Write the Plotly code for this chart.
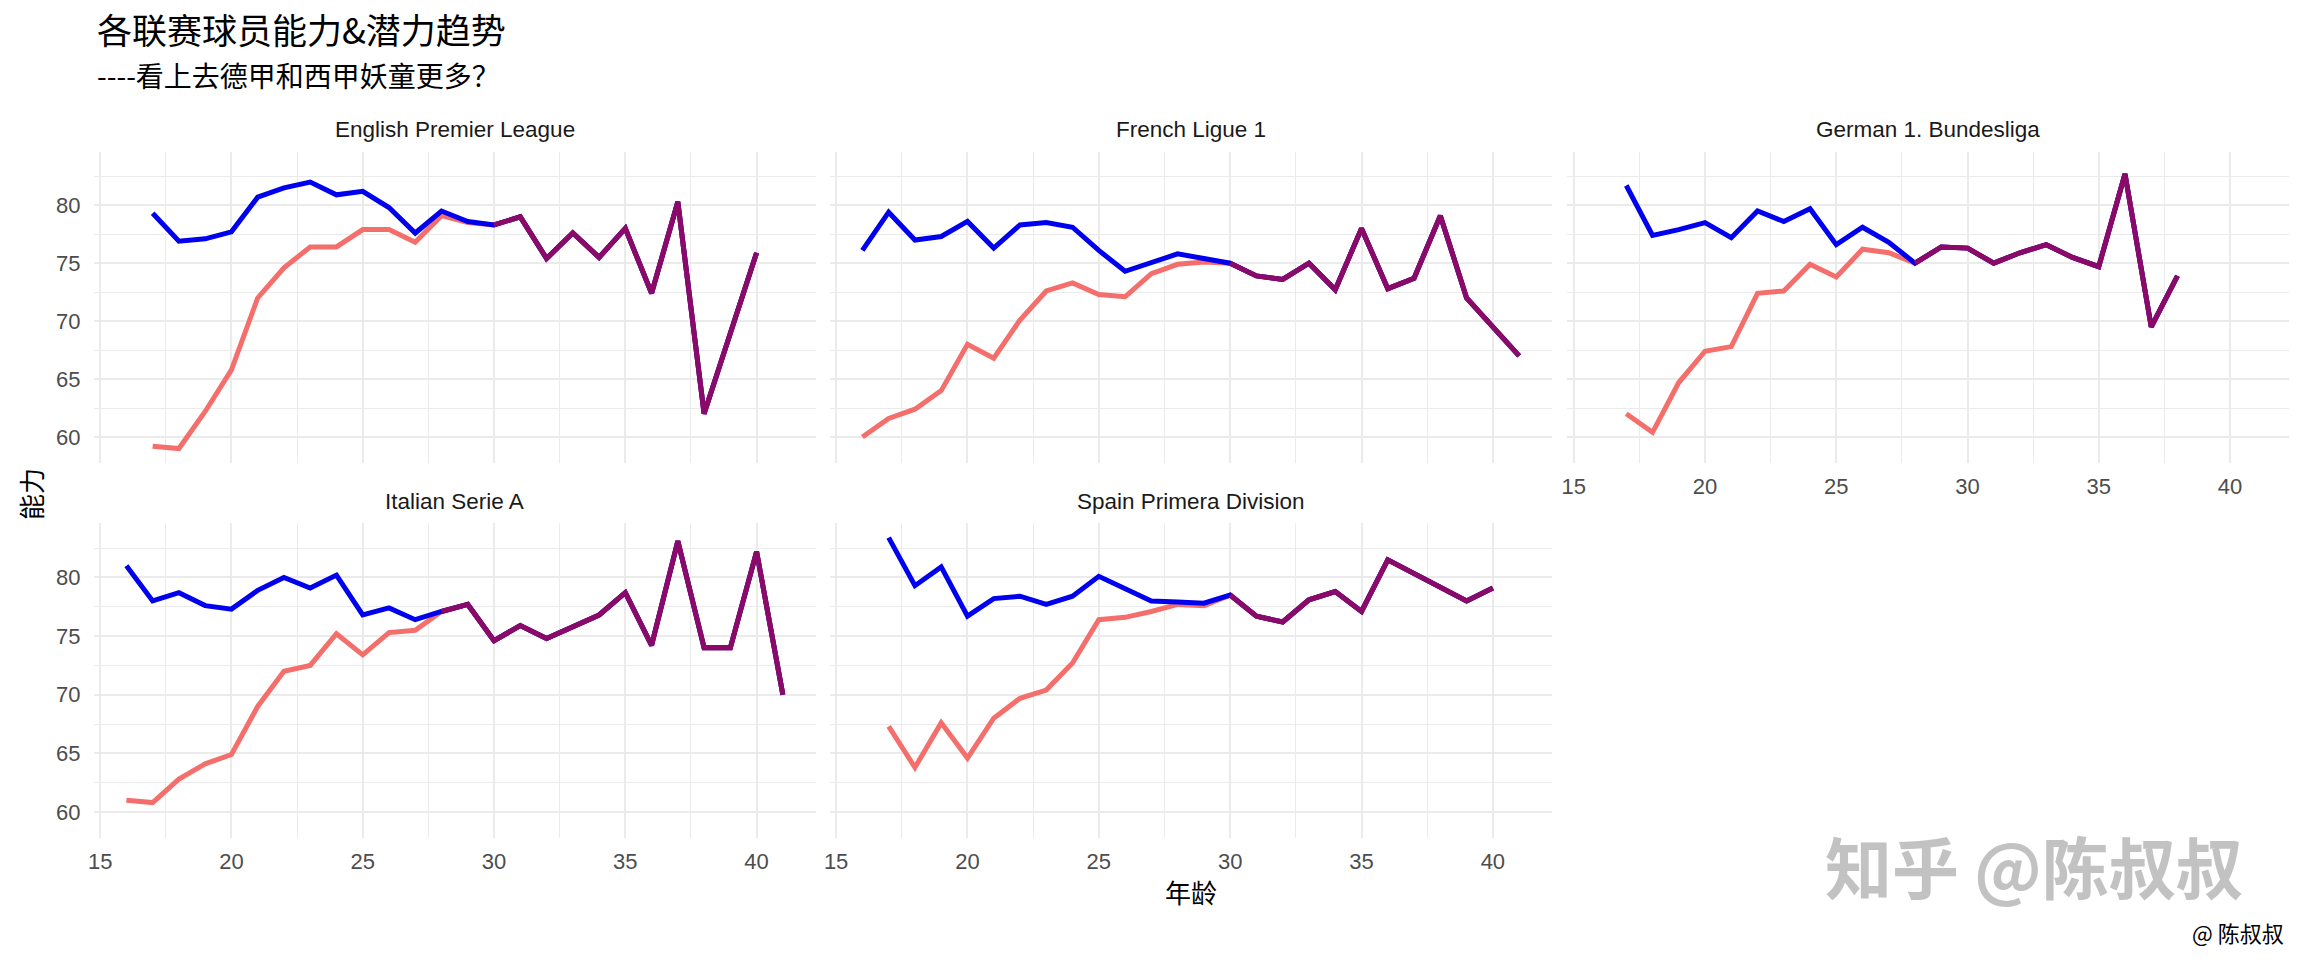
import plotly.graph_objects as go

# ---------------- data ----------------
leagues = ["English Premier League", "French Ligue 1", "German 1. Bundesliga",
           "Italian Serie A", "Spain Primera Division"]

epl_age = [17, 18, 19, 20, 21, 22, 23, 24, 25, 26, 27, 28, 29, 30, 31, 32, 33, 34, 35, 36, 37, 38, 40]
epl_potential = [79.3, 76.9, 77.1, 77.7, 80.7, 81.5, 82.0, 80.9, 81.2, 79.8, 77.6, 79.5, 78.6, 78.3,
                 79.0, 75.4, 77.6, 75.5, 78.0, 72.4, 80.3, 62.0, 75.9]
epl_overall = [59.2, 59.0, 62.2, 65.8, 72.0, 74.6, 76.4, 76.4, 77.9, 77.9, 76.8, 79.1, 78.5, 78.3,
               79.0, 75.4, 77.6, 75.5, 78.0, 72.4, 80.3, 62.0, 75.9]

fra_age = [16, 17, 18, 19, 20, 21, 22, 23, 24, 25, 26, 27, 28, 29, 30, 31, 32, 33, 34, 35, 36, 37, 38, 39, 41]
fra_potential = [76.1, 79.4, 77.0, 77.3, 78.6, 76.3, 78.3, 78.5, 78.1, 76.1, 74.3, 75.0, 75.8, 75.4, 75.0,
                 73.9, 73.6, 75.0, 72.7, 78.0, 72.8, 73.7, 79.1, 72.0, 67.0]
fra_overall = [60.0, 61.6, 62.4, 64.0, 68.0, 66.8, 70.1, 72.6, 73.3, 72.3, 72.1, 74.1, 74.9, 75.1, 75.0,
               73.9, 73.6, 75.0, 72.7, 78.0, 72.8, 73.7, 79.1, 72.0, 67.0]

ger_age = [17, 18, 19, 20, 21, 22, 23, 24, 25, 26, 27, 28, 29, 30, 31, 32, 33, 34, 35, 36, 37, 38]
ger_potential = [81.7, 77.4, 77.9, 78.5, 77.2, 79.5, 78.6, 79.7, 76.6, 78.1, 76.8, 75.0, 76.4, 76.3,
                 75.0, 75.9, 76.6, 75.5, 74.7, 82.7, 69.5, 73.9]
ger_overall = [62.0, 60.4, 64.7, 67.4, 67.8, 72.4, 72.6, 74.9, 73.8, 76.2, 75.9, 75.0, 76.4, 76.3,
               75.0, 75.9, 76.6, 75.5, 74.7, 82.7, 69.5, 73.9]

ita_age = [16, 17, 18, 19, 20, 21, 22, 23, 24, 25, 26, 27, 28, 29, 30, 31, 32, 33, 34, 35, 36, 37, 38, 39, 40, 41]
ita_potential = [81.0, 78.0, 78.7, 77.6, 77.3, 78.9, 80.0, 79.1, 80.2, 76.8, 77.4, 76.4, 77.1, 77.7,
                 74.6, 75.9, 74.8, 75.8, 76.8, 78.7, 74.2, 83.1, 74.0, 74.0, 82.2, 70.0]
ita_overall = [61.0, 60.8, 62.8, 64.1, 64.9, 69.0, 72.0, 72.5, 75.2, 73.4, 75.3, 75.5, 77.1, 77.7,
               74.6, 75.9, 74.8, 75.8, 76.8, 78.7, 74.2, 83.1, 74.0, 74.0, 82.2, 70.0]

esp_age = [17, 18, 19, 20, 21, 22, 23, 24, 25, 26, 27, 28, 29, 30, 31, 32, 33, 34, 35, 36, 39, 40]
esp_potential = [83.4, 79.3, 80.9, 76.7, 78.2, 78.4, 77.7, 78.4, 80.1, 79.0, 78.0, 77.9, 77.8, 78.5,
                 76.7, 76.2, 78.1, 78.8, 77.1, 81.5, 78.0, 79.1]
esp_overall = [67.3, 63.8, 67.6, 64.6, 68.0, 69.7, 70.4, 72.7, 76.4, 76.6, 77.1, 77.7, 77.6, 78.5,
               76.7, 76.2, 78.1, 78.8, 77.1, 81.5, 78.0, 79.1]

ages = [epl_age, fra_age, ger_age, ita_age, esp_age]
potentials = [epl_potential, fra_potential, ger_potential, ita_potential, esp_potential]
overalls = [epl_overall, fra_overall, ger_overall, ita_overall, esp_overall]

x_ticks = [15, 20, 25, 30, 35, 40]
y_ticks = [60, 65, 70, 75, 80]

# ---------------- layout constants ----------------
W, H = 2304, 960
COL_PX = [(87.8, 811.8), (825.7, 1550.0), (1565.3, 2289.0)]
ROW_PX = [(151.7, 462.7), (523.3, 838.0)]
XR = [14.75, 42.25]
YR = [57.78, 84.62]

C_POT = "#0000EE"
C_OVR = "#F46F6B"
C_BOTH = "#8B0A67"
GRID = "#EBEBEB"
TICK_FONT = dict(family="Liberation Sans, Arial", size=22, color="#4D4D4D")
CJK = "Noto Sans CJK SC"


def px_x(v):
    return v / W


def px_y(v):
    return 1 - v / H


fig = go.Figure()
annotations = []

for i, name in enumerate(leagues):
    r, c = divmod(i, 3)
    n = i + 1
    xa = "x" if n == 1 else f"x{n}"
    ya = "y" if n == 1 else f"y{n}"
    a, p, o = ages[i], potentials[i], overalls[i]
    both = [pv if pv == ov else None for pv, ov in zip(p, o)]

    fig.add_trace(go.Scatter(x=a, y=o, mode="lines", line=dict(color=C_OVR, width=5),
                             xaxis=xa, yaxis=ya, showlegend=False, hoverinfo="skip"))
    fig.add_trace(go.Scatter(x=a, y=p, mode="lines", line=dict(color=C_POT, width=5),
                             xaxis=xa, yaxis=ya, showlegend=False, hoverinfo="skip"))
    fig.add_trace(go.Scatter(x=a, y=both, mode="lines", line=dict(color=C_BOTH, width=5),
                             connectgaps=False, xaxis=xa, yaxis=ya, showlegend=False,
                             hoverinfo="skip"))

    x0, x1 = COL_PX[c]
    y0, y1 = ROW_PX[r]
    show_x = (r == 1) or (c == 2)
    show_y = (c == 0)
    axis_common = dict(showline=False, zeroline=False, ticks="", showgrid=True,
                       gridcolor=GRID, gridwidth=2)
    fig.layout[("xaxis" if n == 1 else f"xaxis{n}")] = dict(
        domain=[px_x(x0), px_x(x1)], range=XR, anchor=ya,
        tickvals=x_ticks, showticklabels=show_x, tickfont=TICK_FONT,
        ticklabelstandoff=8,
        minor=dict(tickvals=[17.5, 22.5, 27.5, 32.5, 37.5, 42.5], showgrid=True,
                   gridcolor=GRID, gridwidth=1.3, ticks=""),
        **axis_common)
    fig.layout[("yaxis" if n == 1 else f"yaxis{n}")] = dict(
        domain=[px_y(y1), px_y(y0)], range=YR, anchor=xa,
        tickvals=y_ticks, showticklabels=show_y, tickfont=TICK_FONT,
        ticklabelstandoff=12,
        minor=dict(tickvals=[62.5, 67.5, 72.5, 77.5, 82.5], showgrid=True,
                   gridcolor=GRID, gridwidth=1.3, ticks=""),
        **axis_common)

    annotations.append(dict(
        text=name, x=px_x((x0 + x1) / 2), y=px_y(y0 - 22), xref="paper", yref="paper",
        xanchor="center", yanchor="middle", showarrow=False,
        font=dict(family="Liberation Sans, Arial", size=22.5, color="#1A1A1A")))

# titles
annotations += [
    dict(text="各联赛球员能力&潜力趋势", x=px_x(89), y=px_y(29), xref="paper", yref="paper",
         xanchor="left", yanchor="middle", showarrow=False,
         font=dict(family=CJK, size=35, color="#000000")),
    dict(text="----看上去德甲和西甲妖童更多？", x=px_x(89), y=px_y(75), xref="paper", yref="paper",
         xanchor="left", yanchor="middle", showarrow=False,
         font=dict(family=CJK, size=28, color="#000000")),
    dict(text="年龄", x=px_x(1188), y=px_y(891), xref="paper", yref="paper",
         xanchor="center", yanchor="middle", showarrow=False,
         font=dict(family=CJK, size=26, color="#000000")),
    dict(text="能力", x=px_x(25), y=px_y(494), xref="paper", yref="paper",
         xanchor="center", yanchor="middle", showarrow=False, textangle=-90,
         font=dict(family=CJK, size=26, color="#000000")),
    dict(text="知乎 @陈叔叔", x=px_x(2033), y=px_y(864), xref="paper", yref="paper",
         xanchor="center", yanchor="middle", showarrow=False,
         font=dict(family=CJK, size=67, color="#C2C2C2", weight="bold")),
    dict(text="@ 陈叔叔", x=px_x(2286), y=px_y(932), xref="paper", yref="paper",
         xanchor="right", yanchor="middle", showarrow=False,
         font=dict(family=CJK, size=22, color="#000000")),
]

fig.update_layout(
    width=W, height=H,
    margin=dict(l=0, r=0, t=0, b=0),
    paper_bgcolor="#FFFFFF", plot_bgcolor="#FFFFFF",
    annotations=annotations,
    showlegend=False,
)

fig.write_html("out.html", config={"displayModeBar": False})
